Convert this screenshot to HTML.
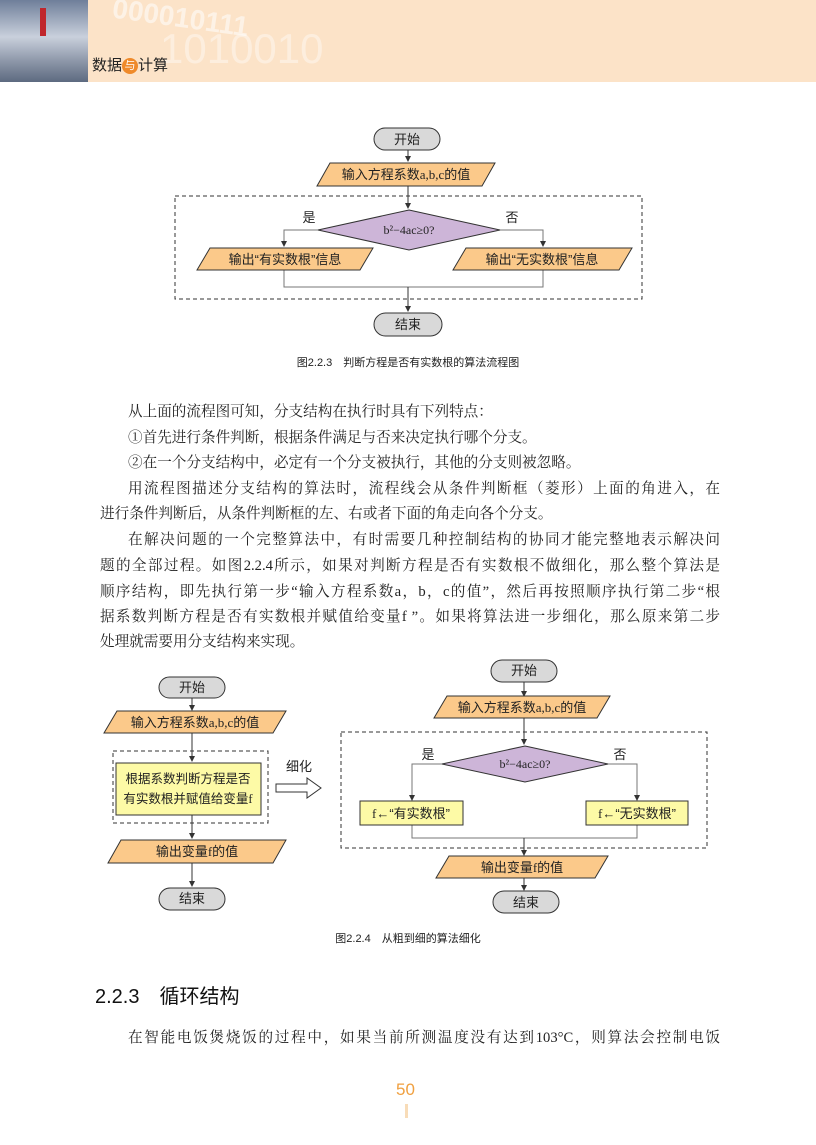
<!DOCTYPE html>
<html><head><meta charset="utf-8"><style>
*{margin:0;padding:0}
body{width:816px;height:1145px;background:#fff;position:relative;overflow:hidden;font-family:"Liberation Serif","Noto Serif CJK SC",serif;color:#222}
.l{position:absolute;left:100px;width:620px;font-size:14.6px;line-height:20px;white-space:nowrap;text-align:justify;text-align-last:justify}
.l.i{left:128px;width:592px}
.l.e{text-align-last:left}
.s{font-family:"Liberation Sans","Noto Sans CJK SC",sans-serif}
</style></head><body>
<div style="position:absolute;left:0;top:0;width:816px;height:82px;background:#fce3c8"></div>
<div style="position:absolute;left:0;top:0;width:88px;height:82px;background:linear-gradient(180deg,#6f7f9a 0%,#c9d0dc 45%,#8c96a8 75%,#5d6a80 100%)"></div>
<div style="position:absolute;left:40px;top:8px;width:6px;height:28px;background:#c0262c"></div>
<div class="s" style="position:absolute;left:112px;top:2px;font-size:28px;color:#fff;opacity:.55;font-weight:bold;transform:rotate(8deg)">000010111</div>
<div class="s" style="position:absolute;left:160px;top:25px;font-size:42px;color:#fff;opacity:.4">1010010</div>
<div class="s" style="position:absolute;left:92px;top:54px;font-size:15px;color:#222">数据<span style="display:inline-block;width:16px;height:16px;border-radius:8px;background:#ef8a2a;color:#fff;font-size:11px;text-align:center;line-height:16px;vertical-align:1px">与</span>计算</div>

<svg width="816" height="1145" style="position:absolute;left:0;top:0" font-family="Liberation Sans,Noto Sans CJK SC,sans-serif" font-size="13">
<defs><marker id="a" markerWidth="6" markerHeight="6" refX="5" refY="3" orient="auto"><path d="M0,0L6,3L0,6z" fill="#333"/></marker></defs>
<g stroke="#333" stroke-width="1" fill="none">
<!-- diagram1 -->
<rect x="175" y="196" width="467" height="103" stroke-dasharray="4,3"/>
<path d="M408 150V161" marker-end="url(#a)"/><path d="M408 186V208" marker-end="url(#a)"/>
<path d="M318 230H284V246" marker-end="url(#a)" stroke="#777"/><path d="M500 230H543V246" marker-end="url(#a)" stroke="#777"/>
<path d="M284 270V287H543V270" stroke="#777"/><path d="M408 287V311" marker-end="url(#a)"/>
<!-- diagram2 left -->
<rect x="113" y="751" width="155" height="72" stroke-dasharray="4,3"/>
<path d="M192 698V710" marker-end="url(#a)"/><path d="M192 733V761" marker-end="url(#a)"/>
<path d="M192 815V838" marker-end="url(#a)"/><path d="M192 863V886" marker-end="url(#a)"/>
<!-- diagram2 right -->
<rect x="341" y="732" width="366" height="116" stroke-dasharray="4,3"/>
<path d="M524 682V696" marker-end="url(#a)"/><path d="M524 718V744" marker-end="url(#a)"/>
<path d="M442 764H412V800" marker-end="url(#a)" stroke="#777"/><path d="M608 764H637V800" marker-end="url(#a)" stroke="#777"/>
<path d="M412 825V838H637V825" stroke="#777"/><path d="M524 838V855" marker-end="url(#a)"/><path d="M524 878V890" marker-end="url(#a)"/>
</g>
<g stroke="#333" stroke-width="1">
<rect x="374" y="128" width="66" height="22" rx="11" fill="#d9d9d9"/>
<polygon points="330,163 495,163 482,186 317,186" fill="#fbc98a"/>
<polygon points="409,210 500,230 409,250 318,230" fill="#cdb5d8"/>
<polygon points="210,248 373,248 360,270 197,270" fill="#fbc98a"/>
<polygon points="466,248 632,248 619,270 453,270" fill="#fbc98a"/>
<rect x="374" y="313" width="68" height="23" rx="11.5" fill="#d9d9d9"/>

<rect x="159" y="677" width="66" height="21" rx="10.5" fill="#d9d9d9"/>
<polygon points="117,711 286,711 273,733 104,733" fill="#fbc98a"/>
<rect x="116" y="763" width="145" height="52" fill="#fdfaa6"/>
<polygon points="121,840 286,840 273,863 108,863" fill="#fbc98a"/>
<rect x="159" y="888" width="66" height="22" rx="11" fill="#d9d9d9"/>
<polygon points="276,784 307,784 307,778 321,788 307,798 307,792 276,792" fill="#fff"/>

<rect x="491" y="660" width="66" height="22" rx="11" fill="#d9d9d9"/>
<polygon points="447,696 610,696 597,718 434,718" fill="#fbc98a"/>
<polygon points="525,746 608,764 525,782 442,764" fill="#cdb5d8"/>
<rect x="360" y="801" width="103" height="24" fill="#fdfaa6"/>
<rect x="586" y="801" width="102" height="24" fill="#fdfaa6"/>
<polygon points="449,856 608,856 595,878 436,878" fill="#fbc98a"/>
<rect x="493" y="891" width="66" height="22" rx="11" fill="#d9d9d9"/>
</g>
<g fill="#222" text-anchor="middle">
<text x="407" y="144">开始</text>
<text x="406" y="179">输入方程系数<tspan font-family="Liberation Serif">a,b,c</tspan>的值</text>
<text x="409" y="234" font-family="Liberation Serif" font-size="12">b²−4ac≥0?</text>
<text x="309" y="222">是</text><text x="512" y="222">否</text>
<text x="285" y="264">输出“有实数根”信息</text>
<text x="542" y="264">输出“无实数根”信息</text>
<text x="408" y="329">结束</text>
<text x="408" y="366" font-size="11">图2.2.3　判断方程是否有实数根的算法流程图</text>

<text x="192" y="692">开始</text>
<text x="195" y="727">输入方程系数<tspan font-family="Liberation Serif">a,b,c</tspan>的值</text>
<text x="188" y="783" font-size="12.5">根据系数判断方程是否</text>
<text x="188" y="803" font-size="12.5">有实数根并赋值给变量<tspan font-family="Liberation Serif">f</tspan></text>
<text x="197" y="856">输出变量<tspan font-family="Liberation Serif">f</tspan>的值</text>
<text x="192" y="903">结束</text>
<text x="299" y="771">细化</text>

<text x="524" y="675">开始</text>
<text x="522" y="712">输入方程系数<tspan font-family="Liberation Serif">a,b,c</tspan>的值</text>
<text x="525" y="768" font-family="Liberation Serif" font-size="12">b²−4ac≥0?</text>
<text x="428" y="759">是</text><text x="620" y="759">否</text>
<text x="411" y="818"><tspan font-family="Liberation Serif">f</tspan>←“有实数根”</text>
<text x="637" y="818"><tspan font-family="Liberation Serif">f</tspan>←“无实数根”</text>
<text x="522" y="872">输出变量<tspan font-family="Liberation Serif">f</tspan>的值</text>
<text x="526" y="907">结束</text>
<text x="408" y="942" font-size="11">图2.2.4　从粗到细的算法细化</text>
</g>
</svg>

<div class="l i e" style="top:402px">从上面的流程图可知，分支结构在执行时具有下列特点：</div>
<div class="l i e" style="top:428px">①首先进行条件判断，根据条件满足与否来决定执行哪个分支。</div>
<div class="l i e" style="top:453px">②在一个分支结构中，必定有一个分支被执行，其他的分支则被忽略。</div>
<div class="l i" style="top:479px">用流程图描述分支结构的算法时，流程线会从条件判断框（菱形）上面的角进入，在</div>
<div class="l e" style="top:504px">进行条件判断后，从条件判断框的左、右或者下面的角走向各个分支。</div>
<div class="l i" style="top:530px">在解决问题的一个完整算法中，有时需要几种控制结构的协同才能完整地表示解决问</div>
<div class="l" style="top:556px">题的全部过程。如图2.2.4所示，如果对判断方程是否有实数根不做细化，那么整个算法是</div>
<div class="l" style="top:582px">顺序结构，即先执行第一步“输入方程系数a，b，c的值”，然后再按照顺序执行第二步“根</div>
<div class="l" style="top:607px">据系数判断方程是否有实数根并赋值给变量f ”。如果将算法进一步细化，那么原来第二步</div>
<div class="l e" style="top:632px">处理就需要用分支结构来实现。</div>

<div class="s" style="position:absolute;left:95px;top:980px;font-size:20px;color:#111">2.2.3　循环结构</div>
<div class="l i" style="top:1028px">在智能电饭煲烧饭的过程中，如果当前所测温度没有达到103°C，则算法会控制电饭</div>
<div class="s" style="position:absolute;left:396px;top:1080px;font-size:17px;color:#f0a040">50</div>
<div style="position:absolute;left:405px;top:1104px;width:3px;height:14px;background:#f8dcb8"></div>
</body></html>
